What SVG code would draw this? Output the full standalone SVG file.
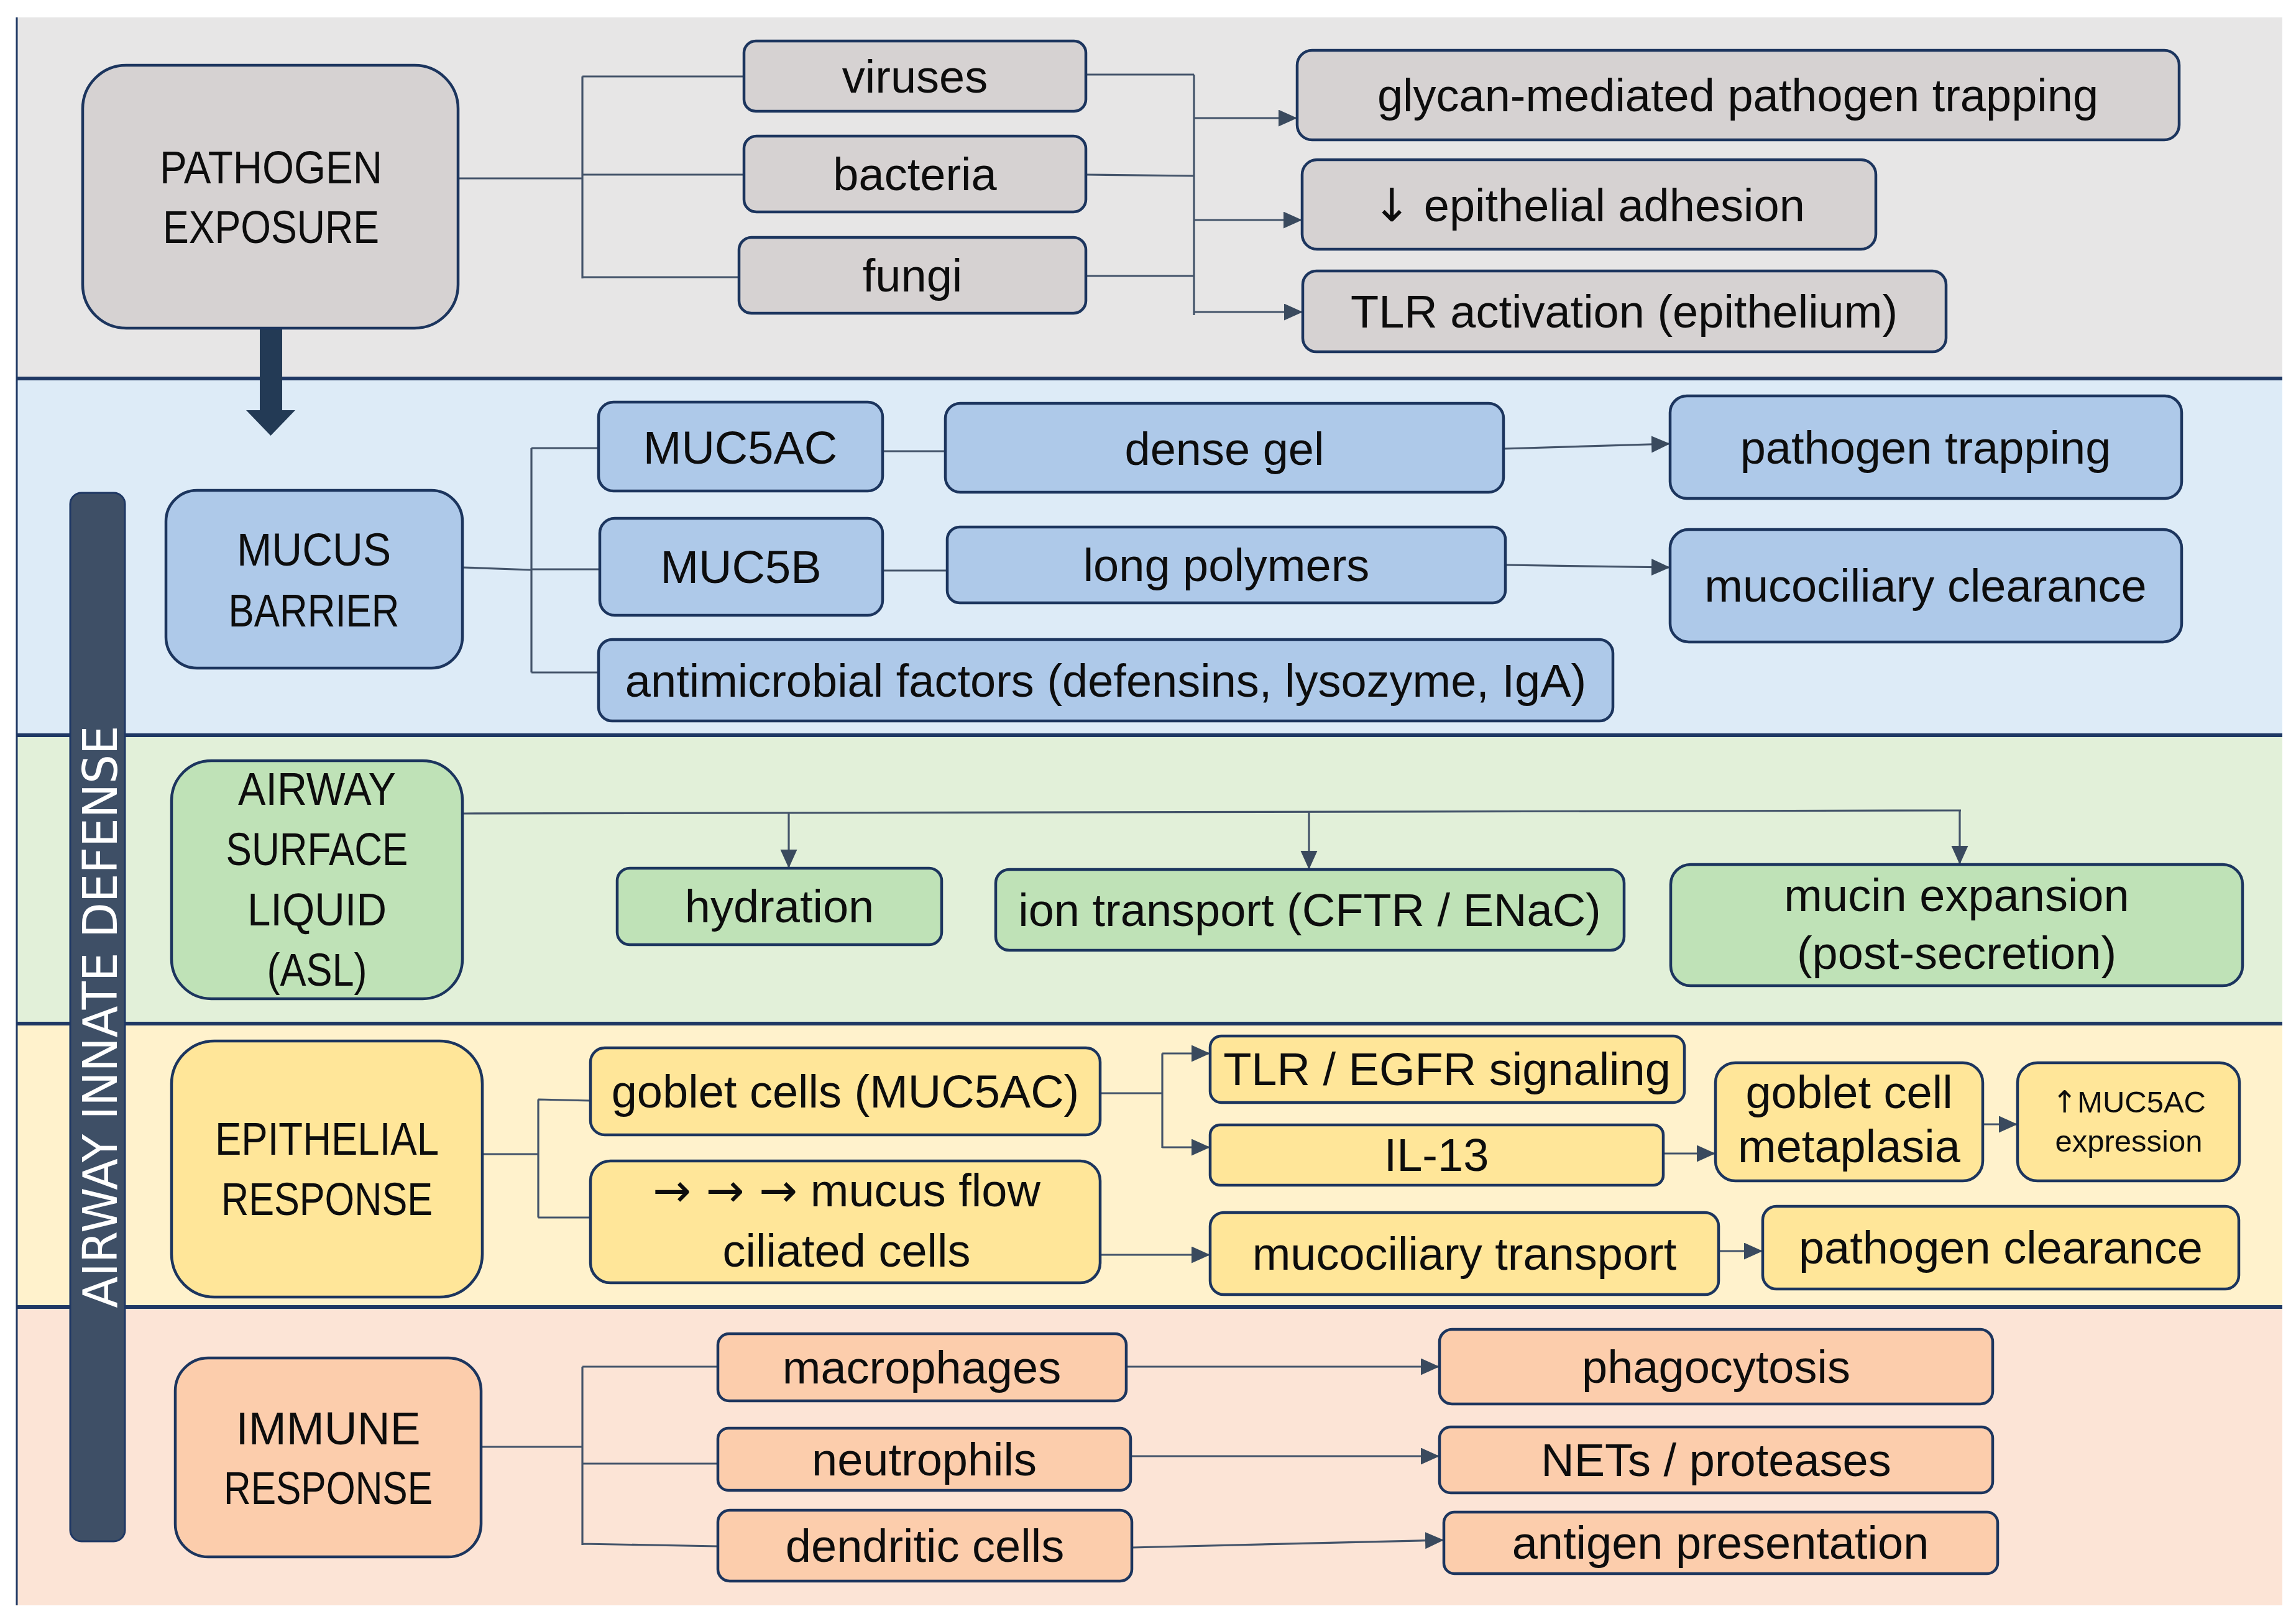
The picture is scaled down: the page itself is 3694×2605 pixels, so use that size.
<svg xmlns="http://www.w3.org/2000/svg" width="3694" height="2605" viewBox="0 0 3694 2605">
<style>
.n rect{stroke:#1c355e;stroke-width:4.5}
.g rect{fill:#d6d2d2}
.b rect{fill:#aec9e9}
.gr rect{fill:#bfe2b7}
.y rect{fill:#ffe699}
.p rect{fill:#fccdac}
text{font-family:"Liberation Sans",Arial,sans-serif;font-size:74px;fill:#0d0d0d;text-anchor:middle}
.sm{font-size:49px}
.ar{font-family:"DejaVu Sans",sans-serif}
.c{fill:none;stroke:#44546a;stroke-width:3.2}
.sep{stroke:#1f3864;stroke-width:6}
</style>
<defs>
<marker id="ah" markerUnits="userSpaceOnUse" markerWidth="32" markerHeight="28" refX="30" refY="13.5" orient="auto">
<path d="M0,0 L30,13.5 L0,27 z" fill="#3a4a5e"/>
</marker>
</defs>
<g id="background">
<rect x="27" y="28" width="3645" height="581" fill="#e7e6e6"/>
<rect x="27" y="609" width="3645" height="574" fill="#ddebf7"/>
<rect x="27" y="1183" width="3645" height="464" fill="#e2f0d9"/>
<rect x="27" y="1647" width="3645" height="456" fill="#fff2cc"/>
<rect x="27" y="2103" width="3645" height="480" fill="#fce4d6"/>
<line class="sep" x1="27" y1="609" x2="3672" y2="609"/>
<line class="sep" x1="27" y1="1183" x2="3672" y2="1183"/>
<line class="sep" x1="27" y1="1647" x2="3672" y2="1647"/>
<line class="sep" x1="27" y1="2103" x2="3672" y2="2103"/>
<line x1="27" y1="28" x2="27" y2="2583" stroke="#1f3864" stroke-width="3"/>
</g>
<g id="banner">
<rect x="113" y="793" width="88" height="1687" rx="18" fill="#3e4f66" stroke="#1f3864" stroke-width="3"/>
<text transform="translate(188,1636) rotate(-90)" style="font-family:'DejaVu Sans',sans-serif;font-size:77px;fill:#ffffff" textLength="937" lengthAdjust="spacingAndGlyphs">AIRWAY INNATE DEFENSE</text>
</g>
<g id="big-arrow" fill="#233a55">
<rect x="418" y="529" width="36" height="134"/>
<polygon points="396,660 475,660 435.5,701"/>
</g>
<g id="connectors">
<path class="c" d="M737,287 H937 M937,123 V448 M937,123 H1197 M937,281 H1197 M937,446 H1189"/>
<path class="c" d="M1747,120 H1921 M1747,281 L1921,283 M1747,444 H1921 M1921,120 V507"/>
<path class="c" d="M1921,190 H2087" marker-end="url(#ah)"/>
<path class="c" d="M1921,354 H2095" marker-end="url(#ah)"/>
<path class="c" d="M1921,502 H2096" marker-end="url(#ah)"/>
<path class="c" d="M744,913 L855,917 M855,721 V1082 M855,721 H963 M855,916 H965 M855,1082 H963"/>
<path class="c" d="M1420,726 H1521 M1420,918 H1524"/>
<path class="c" d="M2419,722 L2687,714" marker-end="url(#ah)"/>
<path class="c" d="M2422,909 L2687,913" marker-end="url(#ah)"/>
<path class="c" d="M744,1309 L3155,1304"/>
<path class="c" d="M1269,1309 V1397" marker-end="url(#ah)"/>
<path class="c" d="M2106,1306 V1399" marker-end="url(#ah)"/>
<path class="c" d="M3153,1304 V1391" marker-end="url(#ah)"/>
<path class="c" d="M776,1857 H866 M866,1769 V1959 M866,1769 L950,1771 M866,1959 H950"/>
<path class="c" d="M1770,1759 H1870 M1870,1695 V1847"/>
<path class="c" d="M1870,1695 H1947" marker-end="url(#ah)"/>
<path class="c" d="M1870,1846 H1947" marker-end="url(#ah)"/>
<path class="c" d="M2676,1856 H2760" marker-end="url(#ah)"/>
<path class="c" d="M3190,1809 H3246" marker-end="url(#ah)"/>
<path class="c" d="M1770,2019 H1947" marker-end="url(#ah)"/>
<path class="c" d="M2765,2013 H2836" marker-end="url(#ah)"/>
<path class="c" d="M774,2328 H937 M937,2199 V2486 M937,2199 H1155 M937,2355 H1155 M937,2484 L1155,2488"/>
<path class="c" d="M1811,2199 H2316" marker-end="url(#ah)"/>
<path class="c" d="M1819,2343 H2316" marker-end="url(#ah)"/>
<path class="c" d="M1821,2490 L2323,2478" marker-end="url(#ah)"/>
</g>
<g id="n_pathogen" class="n g"><rect x="133" y="105" width="604" height="423" rx="70"/><text x="436" y="295" textLength="358" lengthAdjust="spacingAndGlyphs">PATHOGEN</text><text x="436" y="391" textLength="348" lengthAdjust="spacingAndGlyphs">EXPOSURE</text></g>
<g id="n_viruses" class="n g"><rect x="1197" y="66" width="550" height="113" rx="19"/><text x="1472" y="149">viruses</text></g>
<g id="n_bacteria" class="n g"><rect x="1197" y="219" width="550" height="122" rx="20"/><text x="1472" y="306">bacteria</text></g>
<g id="n_fungi" class="n g"><rect x="1189" y="382" width="558" height="122" rx="20"/><text x="1468" y="469">fungi</text></g>
<g id="n_glycan" class="n g"><rect x="2087" y="81" width="1419" height="144" rx="24"/><text x="2796" y="179">glycan-mediated pathogen trapping</text></g>
<g id="n_adhesion" class="n g"><rect x="2095" y="257" width="923" height="144" rx="24"/><text x="2556" y="356"><tspan class="ar">↓</tspan> epithelial adhesion</text></g>
<g id="n_tlr" class="n g"><rect x="2096" y="436" width="1035" height="130" rx="22"/><text x="2613" y="527">TLR activation (epithelium)</text></g>
<g id="n_mucus" class="n b"><rect x="267" y="789" width="477" height="286" rx="50"/><text x="505" y="910" textLength="248" lengthAdjust="spacingAndGlyphs">MUCUS</text><text x="505" y="1008" textLength="275" lengthAdjust="spacingAndGlyphs">BARRIER</text></g>
<g id="n_muc5ac" class="n b"><rect x="963" y="647" width="457" height="143" rx="24"/><text x="1191" y="746">MUC5AC</text></g>
<g id="n_muc5b" class="n b"><rect x="965" y="834" width="455" height="156" rx="24"/><text x="1192" y="938">MUC5B</text></g>
<g id="n_densegel" class="n b"><rect x="1521" y="649" width="898" height="143" rx="24"/><text x="1970" y="748">dense gel</text></g>
<g id="n_longpoly" class="n b"><rect x="1524" y="848" width="898" height="122" rx="20"/><text x="1973" y="935">long polymers</text></g>
<g id="n_antimicrobial" class="n b"><rect x="963" y="1029" width="1632" height="131" rx="22"/><text x="1779" y="1121">antimicrobial factors (defensins, lysozyme, IgA)</text></g>
<g id="n_pathtrap" class="n b"><rect x="2687" y="637" width="823" height="165" rx="27"/><text x="3098" y="746">pathogen trapping</text></g>
<g id="n_mcclear" class="n b"><rect x="2687" y="852" width="823" height="181" rx="30"/><text x="3098" y="968">mucociliary clearance</text></g>
<g id="n_asl" class="n gr"><rect x="276" y="1224" width="468" height="383" rx="64"/><text x="510" y="1295" textLength="254" lengthAdjust="spacingAndGlyphs">AIRWAY</text><text x="510" y="1392" textLength="293" lengthAdjust="spacingAndGlyphs">SURFACE</text><text x="510" y="1489" textLength="224" lengthAdjust="spacingAndGlyphs">LIQUID</text><text x="510" y="1586" textLength="161" lengthAdjust="spacingAndGlyphs">(ASL)</text></g>
<g id="n_hydration" class="n gr"><rect x="993" y="1397" width="522" height="123" rx="20"/><text x="1254" y="1484">hydration</text></g>
<g id="n_ion" class="n gr"><rect x="1602" y="1399" width="1011" height="130" rx="22"/><text x="2107" y="1490">ion transport (CFTR / ENaC)</text></g>
<g id="n_mucin" class="n gr"><rect x="2688" y="1391" width="920" height="195" rx="32"/><text x="3148" y="1466">mucin expansion</text><text x="3148" y="1559">(post-secretion)</text></g>
<g id="n_epithelial" class="n y"><rect x="276" y="1675" width="500" height="412" rx="69"/><text x="526" y="1858" textLength="360" lengthAdjust="spacingAndGlyphs">EPITHELIAL</text><text x="526" y="1955" textLength="340" lengthAdjust="spacingAndGlyphs">RESPONSE</text></g>
<g id="n_goblet" class="n y"><rect x="950" y="1686" width="820" height="140" rx="23"/><text x="1360" y="1782">goblet cells (MUC5AC)</text></g>
<g id="n_ciliated" class="n y"><rect x="950" y="1868" width="820" height="196" rx="32"/><text x="1362" y="1941"><tspan class="ar">→ → →</tspan> mucus flow</text><text x="1362" y="2038">ciliated cells</text></g>
<g id="n_tlregfr" class="n y"><rect x="1947" y="1667" width="763" height="107" rx="18"/><text x="2328" y="1746">TLR / EGFR signaling</text></g>
<g id="n_il13" class="n y"><rect x="1947" y="1810" width="729" height="97" rx="16"/><text x="2311" y="1884">IL-13</text></g>
<g id="n_gcm" class="n y"><rect x="2760" y="1710" width="430" height="190" rx="32"/><text x="2975" y="1783">goblet cell</text><text x="2975" y="1870">metaplasia</text></g>
<g id="n_muc5acexp" class="n y"><rect x="3246" y="1710" width="357" height="190" rx="32"/><text class="sm" x="3425" y="1790"><tspan class="ar">↑</tspan>MUC5AC</text><text class="sm" x="3425" y="1853">expression</text></g>
<g id="n_mctransport" class="n y"><rect x="1947" y="1951" width="818" height="132" rx="22"/><text x="2356" y="2043">mucociliary transport</text></g>
<g id="n_pclear" class="n y"><rect x="2836" y="1941" width="766" height="133" rx="22"/><text x="3219" y="2033">pathogen clearance</text></g>
<g id="n_immune" class="n p"><rect x="282" y="2185" width="492" height="320" rx="53"/><text x="528" y="2324" textLength="297" lengthAdjust="spacingAndGlyphs">IMMUNE</text><text x="528" y="2420" textLength="336" lengthAdjust="spacingAndGlyphs">RESPONSE</text></g>
<g id="n_macro" class="n p"><rect x="1155" y="2146" width="657" height="108" rx="18"/><text x="1483" y="2226">macrophages</text></g>
<g id="n_neutro" class="n p"><rect x="1155" y="2298" width="664" height="100" rx="17"/><text x="1487" y="2374">neutrophils</text></g>
<g id="n_dendritic" class="n p"><rect x="1155" y="2430" width="666" height="114" rx="19"/><text x="1488" y="2513">dendritic cells</text></g>
<g id="n_phago" class="n p"><rect x="2316" y="2139" width="890" height="120" rx="20"/><text x="2761" y="2225">phagocytosis</text></g>
<g id="n_nets" class="n p"><rect x="2316" y="2296" width="890" height="106" rx="18"/><text x="2761" y="2375">NETs / proteases</text></g>
<g id="n_antigen" class="n p"><rect x="2323" y="2433" width="891" height="99" rx="17"/><text x="2768" y="2508">antigen presentation</text></g>
</svg>
